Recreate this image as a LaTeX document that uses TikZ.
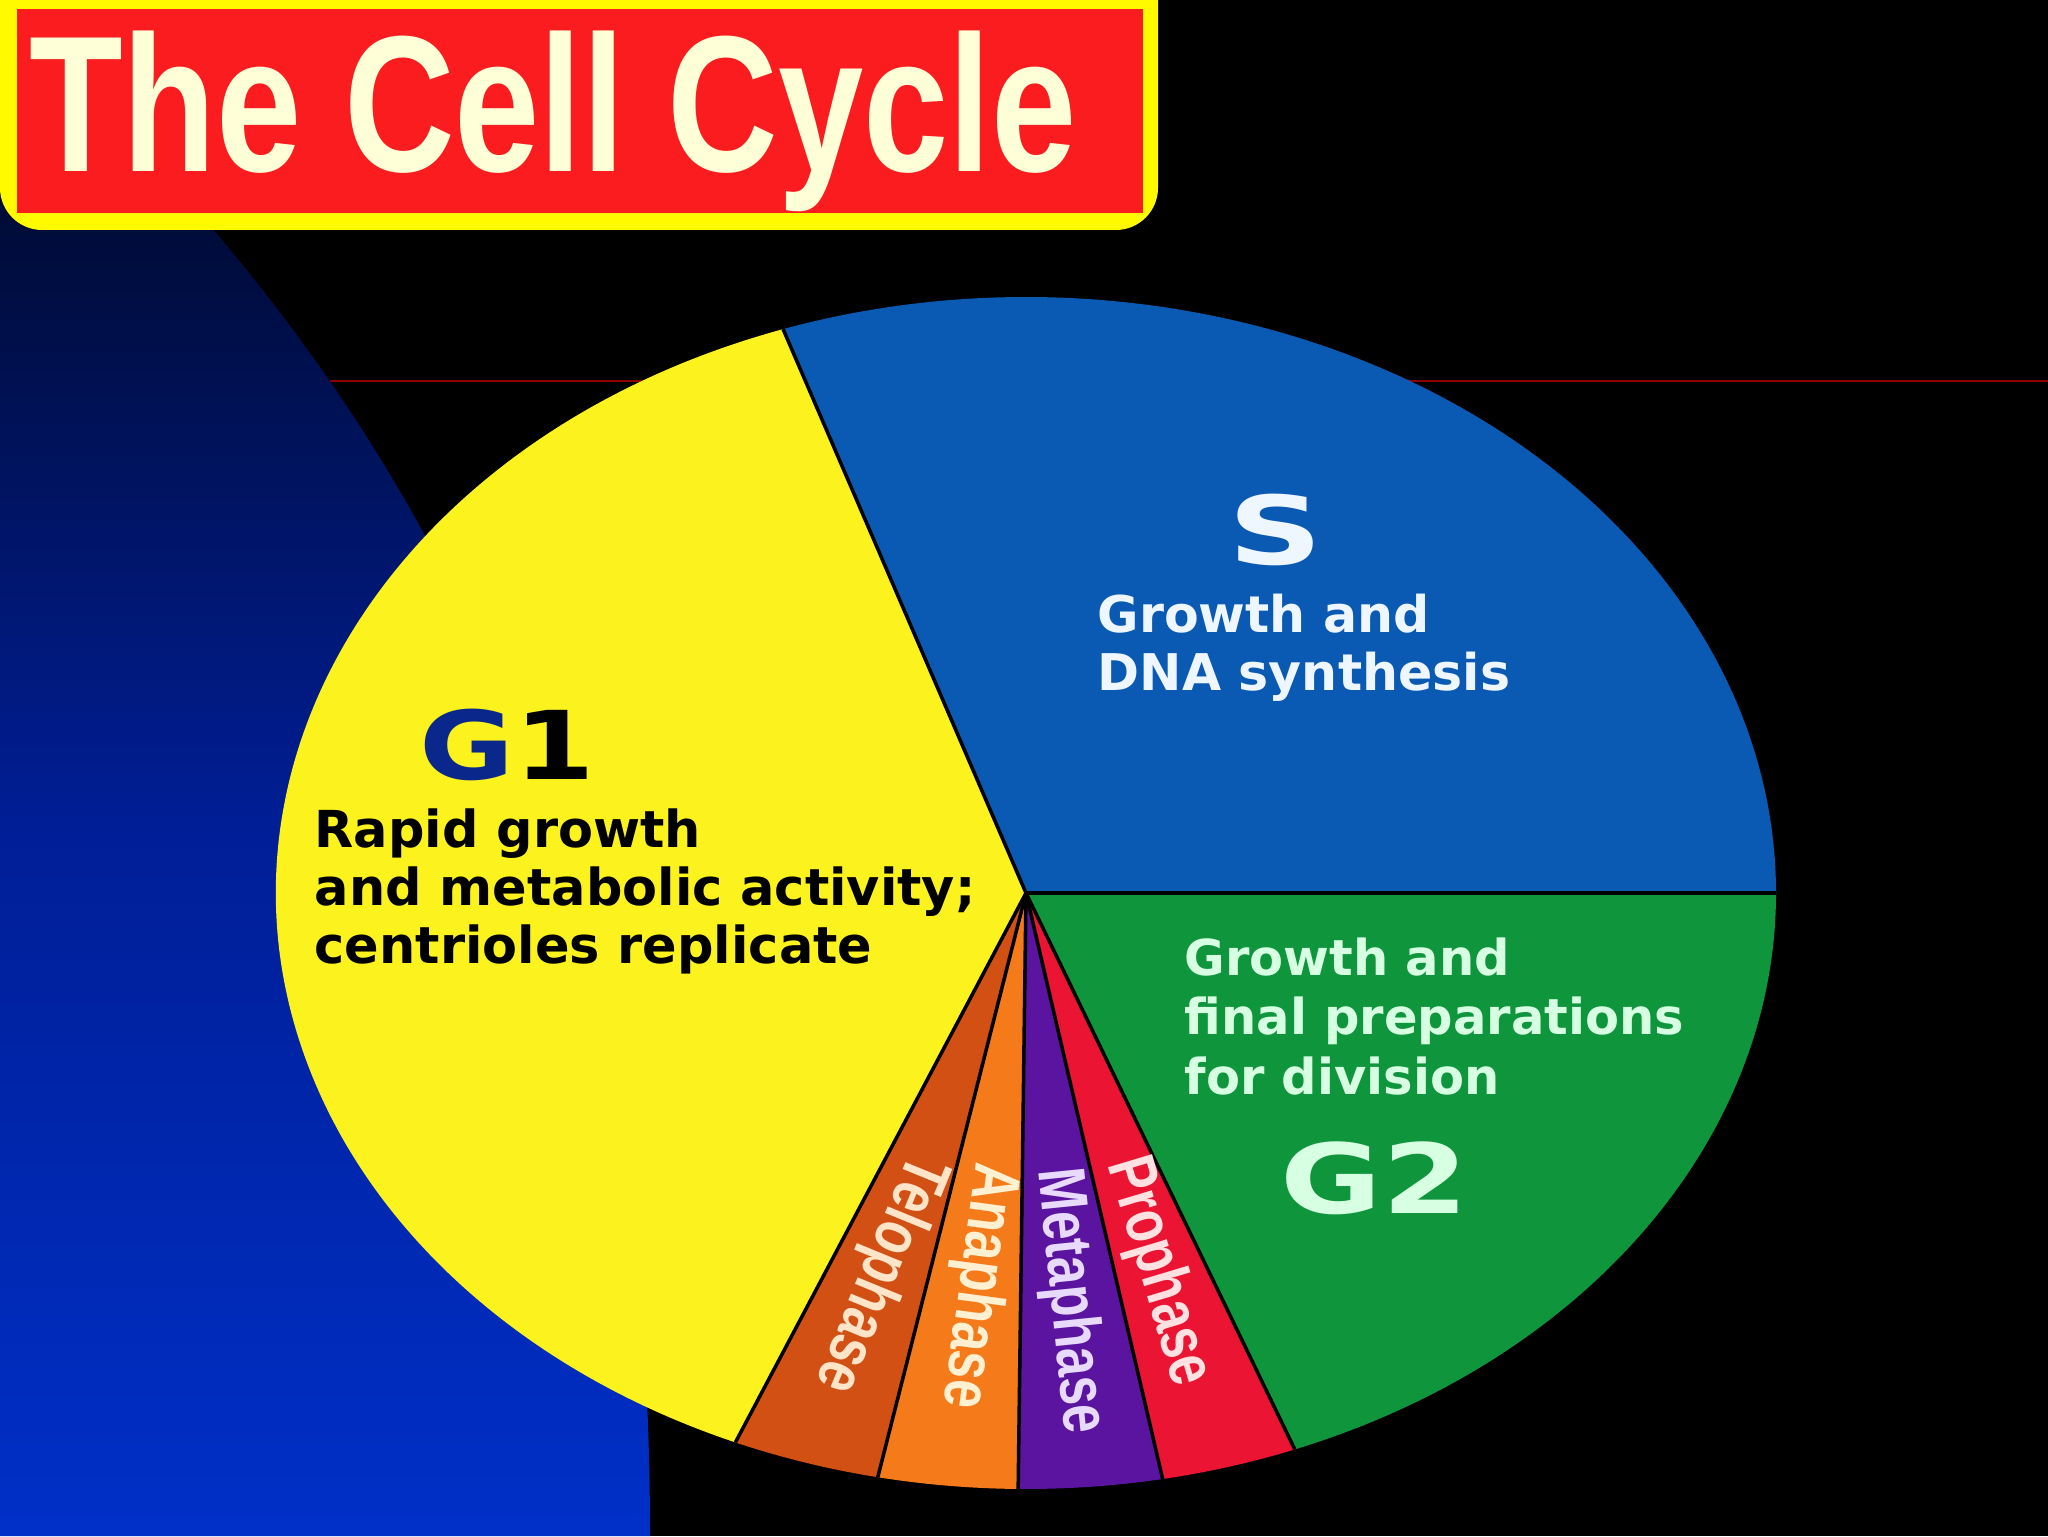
\documentclass[tikz,border=0pt]{standalone}
\usepackage{fontspec}
\usepackage{graphicx}
\setmainfont{DejaVu Sans}
\newfontfamily\titlefont{Liberation Sans}
\definecolor{titlered}{RGB}{250,28,30}
\definecolor{titleyellow}{RGB}{255,250,0}
\definecolor{ivory}{RGB}{255,255,215}
\definecolor{navytop}{RGB}{0,8,40}
\definecolor{navymid}{RGB}{0,30,150}
\definecolor{navybot}{RGB}{0,48,200}
\definecolor{rule}{RGB}{140,0,0}
\definecolor{g1yellow}{RGB}{252,242,30}
\definecolor{sblue}{RGB}{10,90,180}
\definecolor{g2green}{RGB}{15,150,60}
\definecolor{prored}{RGB}{235,20,50}
\definecolor{metapurple}{RGB}{90,20,160}
\definecolor{anaorange}{RGB}{245,122,25}
\definecolor{telorust}{RGB}{210,80,20}
\definecolor{gblue}{RGB}{10,40,140}
\definecolor{stext}{RGB}{238,246,255}
\definecolor{gtext}{RGB}{215,255,225}
\tikzset{
  bigletter/.style={font=\bfseries\fontsize{28}{28}\selectfont,anchor=base west,inner sep=0pt},
  bodytext/.style={font=\bfseries\fontsize{14.1}{16.8}\selectfont,align=left,anchor=base west,inner sep=0pt},
  phaselabel/.style={font=\titlefont\bfseries\fontsize{19}{19}\selectfont,inner sep=0pt},
}
\begin{document}
\begin{tikzpicture}[x=0.1mm,y=0.1mm]
\useasboundingbox (0,0) rectangle (2048,1536);
\fill[black] (0,0) rectangle (2048,1536);
\draw[rule,line width=0.85pt] (330,1155) -- (2048,1155);
\shade[top color=navytop,bottom color=navybot,middle color=navymid]
  (0,0) -- (0,1420) -- (110,1420) .. controls (420,1100) and (650,700) .. (650,0) -- cycle;
% pie
\coordinate (c) at (1026,643);
\foreach \a/\b/\col in {0/108.9/sblue,108.9/247.2/g1yellow,-69/0/g2green,-79.5/-69/prored,
  -90.6/-79.5/metapurple,-101.4/-90.6/anaorange,-112.8/-101.4/telorust}{
  \fill[\col] (c) -- ++(\a:750 and 596) arc[start angle=\a,end angle=\b,x radius=750,y radius=596] -- cycle;
}
\foreach \a in {108.9,0,-69,-79.5,-90.6,-101.4,-112.8}{
  \draw[black,line width=1pt] (c) -- ++(\a:750 and 596);
}
\node[bigletter,text=stext,font=\bfseries\fontsize{27}{28}\selectfont] (slab) at (1228,972) {\scalebox{1.38}[1]{S}};
\node[bodytext,text=stext,font=\bfseries\fontsize{14.4}{16.4}\selectfont] (sdesc) at (1097,846) {Growth and\\DNA synthesis};
\node[bigletter,font=\bfseries\fontsize{27}{28}\selectfont] (gone) at (419,757) {\scalebox{1.22}[1]{\textcolor{gblue}{G}1}};
\node[bodytext,font=\bfseries\fontsize{14.5}{16.5}\selectfont] (gonedesc) at (314,573) {Rapid growth\\and metabolic activity;\\centrioles replicate};
\node[bodytext,text=gtext] (gtwodesc) at (1184,442) {Growth and\\final preparations\\for division};
\node[bigletter,text=gtext,font=\bfseries\fontsize{27.5}{28}\selectfont] (gtwo) at (1280,323) {\scalebox{1.28}[1]{G2}};
\node[phaselabel,rotate=-112.3,text={rgb,255:red,255;green,228;blue,200}] (telo) at (879,262) {\scalebox{0.77}[1]{Telophase}};
\node[phaselabel,rotate=-97.6,text={rgb,255:red,255;green,240;blue,210}] (ana) at (977,250) {\scalebox{0.77}[1]{Anaphase}};
\node[phaselabel,rotate=-84.2,text={rgb,255:red,232;green,218;blue,255}] (meta) at (1069,235) {\scalebox{0.77}[1]{Metaphase}};
\node[phaselabel,rotate=-73.3,text={rgb,255:red,255;green,225;blue,225}] (pro) at (1158,264) {\scalebox{0.77}[1]{Prophase}};
% title
\fill[titleyellow,rounded corners=12] (0,1306) rectangle (1158,1580);
\fill[titlered] (17,1323) rectangle (1143,1527);
\node[anchor=base,inner sep=0pt,text=ivory,font=\titlefont\bfseries\fontsize{55.2}{56}\selectfont] (title) at (553,1364) {\scalebox{0.79}[1]{The Cell Cycle}};
\end{tikzpicture}
\end{document}
